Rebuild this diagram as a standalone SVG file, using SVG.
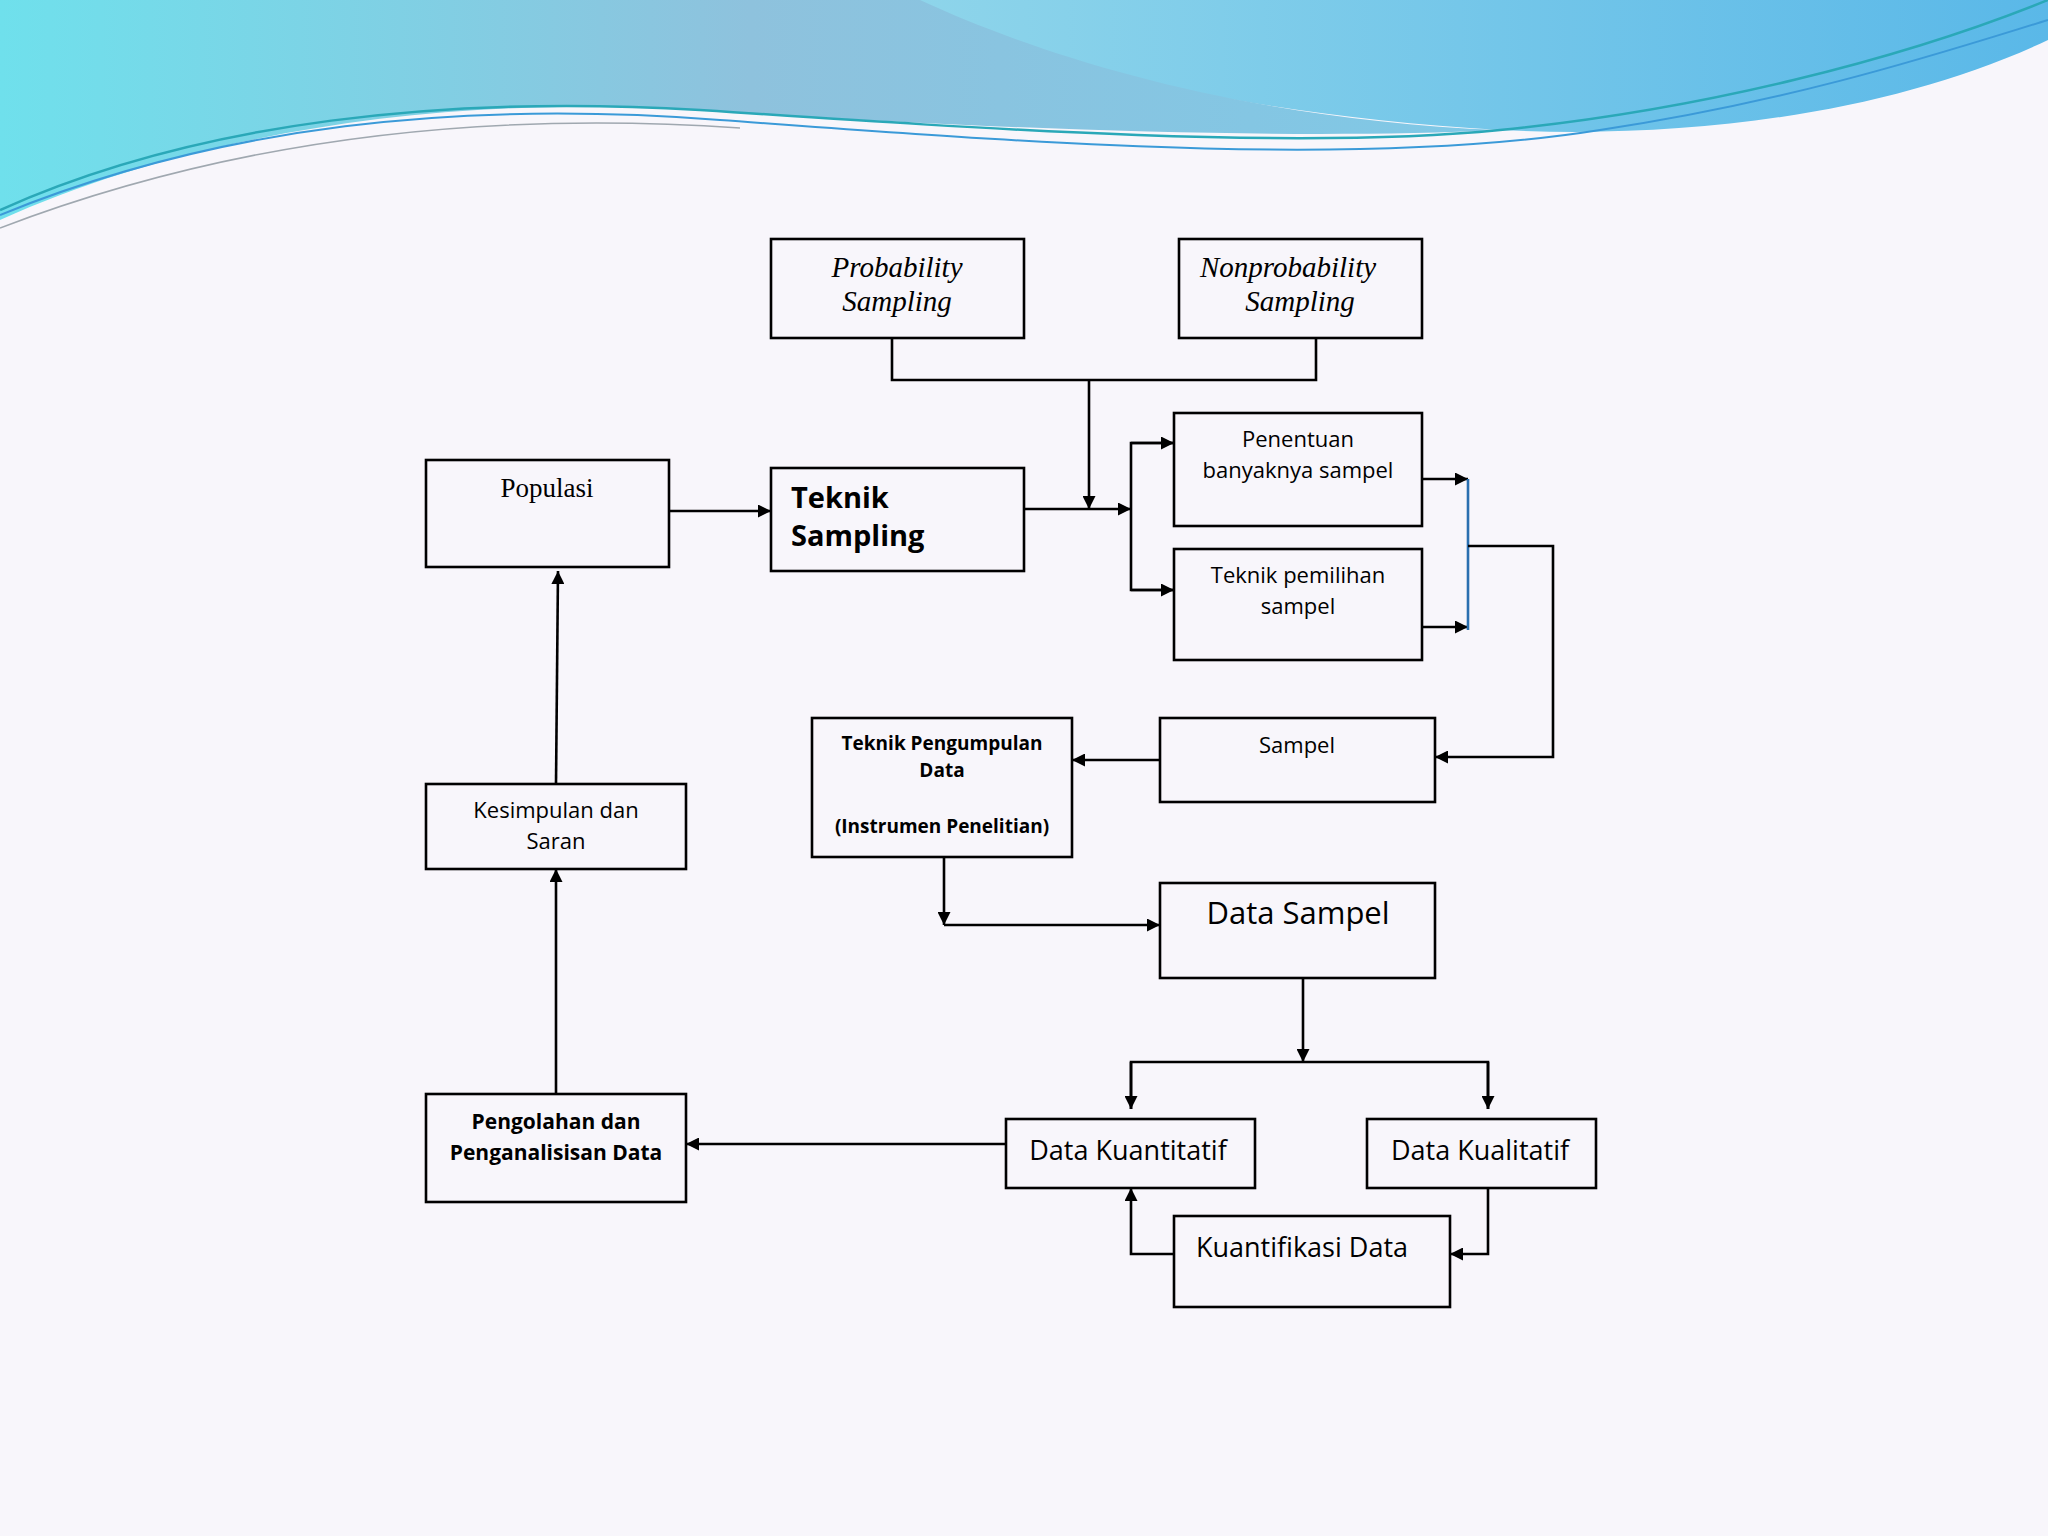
<svg xmlns="http://www.w3.org/2000/svg" width="2048" height="1536" viewBox="0 0 2048 1536">
<defs>
<linearGradient id="g1" x1="0" y1="0" x2="1" y2="0"><stop offset="0" stop-color="#6fe0ec"/><stop offset="0.5" stop-color="#8ec2dd"/><stop offset="1" stop-color="#7fc8e6"/></linearGradient>
<linearGradient id="g2" x1="0" y1="0" x2="1" y2="0"><stop offset="0" stop-color="#b8ecec"/><stop offset="1" stop-color="#5ab8e8"/></linearGradient>
<marker id="a" viewBox="0 0 10 10" refX="10" refY="5" markerWidth="15" markerHeight="13" markerUnits="userSpaceOnUse" orient="auto"><path d="M0,0L10,5L0,10z" fill="#000"/></marker>
</defs>
<style>
.b{fill:none;stroke:#000;stroke-width:2.6}
.c{fill:none;stroke:#000;stroke-width:2.6}
.t{font-family:"Open Sans","Noto Sans",sans-serif;fill:#000;text-anchor:middle}
.l{text-anchor:start}
.s{font-family:"Liberation Serif",serif;fill:#000;text-anchor:middle}
</style>
<rect width="2048" height="1536" fill="#f8f6fb"/>
<path d="M0,0H2048V40C1900,110 1700,140 1500,130C1250,115 1050,70 900,0Z" fill="url(#g2)"/>
<path d="M0,0H920C1050,60 1250,120 1500,130C1300,140 1000,130 700,110C450,95 200,130 0,220Z" fill="url(#g1)"/>
<path d="M0,210C200,120 450,95 700,110C1000,130 1300,150 1500,130C1700,110 1900,60 2048,0" fill="none" stroke="#2aa8b8" stroke-width="2.5"/>
<path d="M0,215C220,125 460,100 720,120C1000,140 1350,170 1600,130C1800,100 1950,50 2048,20" fill="none" stroke="#3b9ad8" stroke-width="2"/>
<path d="M0,228C230,140 480,110 740,128" fill="none" stroke="#a0a8b0" stroke-width="1.5"/>

<g id="prob"><rect class="b" x="771" y="239" width="253" height="99"/><text class="s" font-style="italic" font-size="29" x="897" y="277">Probability</text><text class="s" font-style="italic" font-size="29" x="897" y="311">Sampling</text></g>
<g id="nonprob"><rect class="b" x="1179" y="239" width="243" height="99"/><text class="s" font-style="italic" font-size="29" x="1288" y="277">Nonprobability</text><text class="s" font-style="italic" font-size="29" x="1300" y="311">Sampling</text></g>
<g id="populasi"><rect class="b" x="426" y="460" width="243" height="107"/><text class="s" font-size="27" x="547" y="497">Populasi</text></g>
<g id="teknik"><rect class="b" x="771" y="468" width="253" height="103"/><text class="t l" font-weight="bold" font-size="29" x="791" y="508">Teknik</text><text class="t l" font-weight="bold" font-size="29" x="791" y="546">Sampling</text></g>
<g id="penentuan"><rect class="b" x="1174" y="413" width="248" height="113"/><text class="t" font-size="22" x="1298" y="447">Penentuan</text><text class="t" font-size="22" x="1298" y="478">banyaknya sampel</text></g>
<g id="pemilihan"><rect class="b" x="1174" y="549" width="248" height="111"/><text class="t" font-size="22" x="1298" y="583">Teknik pemilihan</text><text class="t" font-size="22" x="1298" y="614">sampel</text></g>
<g id="sampel"><rect class="b" x="1160" y="718" width="275" height="84"/><text class="t" font-size="22" x="1297" y="753">Sampel</text></g>
<g id="pengumpulan"><rect class="b" x="812" y="718" width="260" height="139"/><text class="t" font-weight="bold" font-size="19" x="942" y="750">Teknik Pengumpulan</text><text class="t" font-weight="bold" font-size="19" x="942" y="777">Data</text><text class="t" font-weight="bold" font-size="19" x="942" y="833">(Instrumen Penelitian)</text></g>
<g id="kesimpulan"><rect class="b" x="426" y="784" width="260" height="85"/><text class="t" font-size="22" x="556" y="818">Kesimpulan dan</text><text class="t" font-size="22" x="556" y="849">Saran</text></g>
<g id="datasampel"><rect class="b" x="1160" y="883" width="275" height="95"/><text class="t" font-family="Liberation Sans" font-size="31" x="1298" y="924">Data Sampel</text></g>
<g id="kuantitatif"><rect class="b" x="1006" y="1119" width="249" height="69"/><text class="t" font-size="27" x="1128" y="1160">Data Kuantitatif</text></g>
<g id="kualitatif"><rect class="b" x="1367" y="1119" width="229" height="69"/><text class="t" font-size="27" x="1480" y="1160">Data Kualitatif</text></g>
<g id="kuantifikasi"><rect class="b" x="1174" y="1216" width="276" height="91"/><text class="t" font-size="27" x="1302" y="1257">Kuantifikasi Data</text></g>
<g id="pengolahan"><rect class="b" x="426" y="1094" width="260" height="108"/><text class="t" font-weight="bold" font-size="21" x="556" y="1129">Pengolahan dan</text><text class="t" font-weight="bold" font-size="21" x="556" y="1160">Penganalisisan Data</text></g>

<g id="connectors">
<polyline class="c" points="892,338 892,380 1316,380 1316,338"/>
<line class="c" x1="1089" y1="380" x2="1089" y2="509" marker-end="url(#a)"/>
<line class="c" x1="1024" y1="509" x2="1131" y2="509" marker-end="url(#a)"/>
<polyline class="c" points="1174,443 1131,443 1131,590 1174,590"/>
<line class="c" x1="1131" y1="443" x2="1174" y2="443" marker-end="url(#a)"/>
<line class="c" x1="1131" y1="590" x2="1174" y2="590" marker-end="url(#a)"/>
<line class="c" x1="1422" y1="479" x2="1468" y2="479" marker-end="url(#a)"/>
<line class="c" x1="1422" y1="627" x2="1468" y2="627" marker-end="url(#a)"/>
<line x1="1468" y1="479" x2="1468" y2="630" stroke="#2a6fb0" stroke-width="2.6"/>
<polyline class="c" points="1468,546 1553,546 1553,757 1435,757" marker-end="url(#a)"/>
<line class="c" x1="1160" y1="760" x2="1072" y2="760" marker-end="url(#a)"/>
<line class="c" x1="944" y1="857" x2="944" y2="925" marker-end="url(#a)"/>
<line class="c" x1="944" y1="925" x2="1160" y2="925" marker-end="url(#a)"/>
<line class="c" x1="1303" y1="978" x2="1303" y2="1062" marker-end="url(#a)"/>
<polyline class="c" points="1131,1109 1131,1062 1488,1062 1488,1109" />
<line class="c" x1="1131" y1="1062" x2="1131" y2="1109" marker-end="url(#a)"/>
<line class="c" x1="1488" y1="1062" x2="1488" y2="1109" marker-end="url(#a)"/>
<polyline class="c" points="1488,1188 1488,1254 1450,1254" marker-end="url(#a)"/>
<polyline class="c" points="1174,1254 1131,1254 1131,1188" marker-end="url(#a)"/>
<line class="c" x1="1006" y1="1144" x2="686" y2="1144" marker-end="url(#a)"/>
<line class="c" x1="556" y1="1094" x2="556" y2="869" marker-end="url(#a)"/>
<line class="c" x1="556" y1="784" x2="558" y2="571" marker-end="url(#a)"/>
<line class="c" x1="669" y1="511" x2="771" y2="511" marker-end="url(#a)"/>
</g>
</svg>
